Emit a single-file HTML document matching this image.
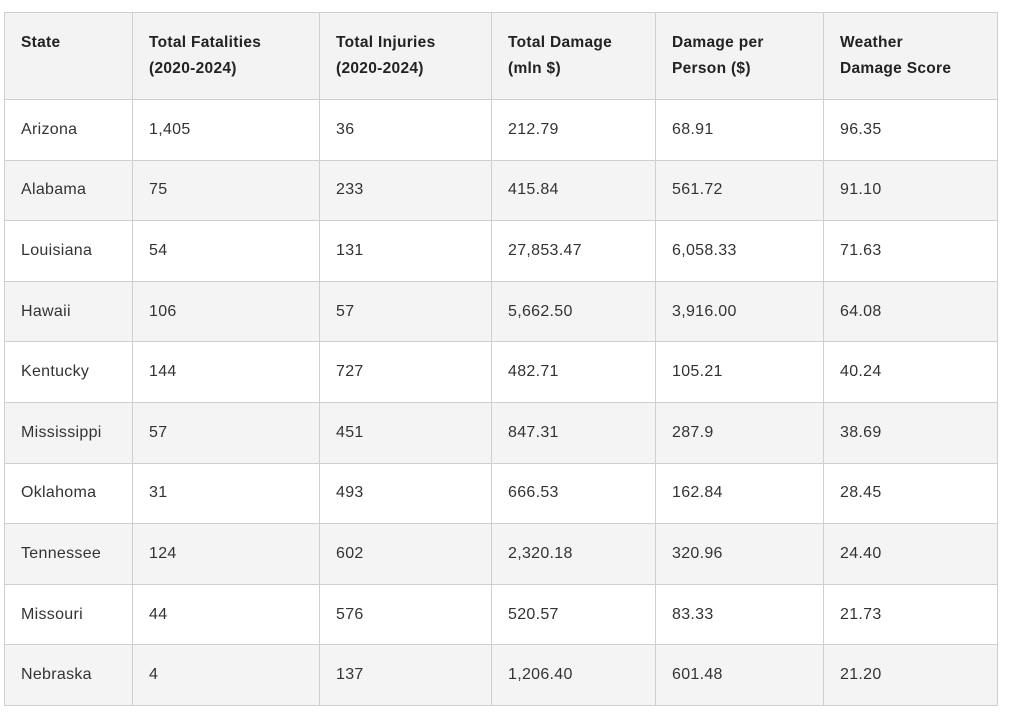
<!DOCTYPE html>
<html><head><meta charset="utf-8"><style>
body{margin:0;background:#fff;width:1024px;height:720px;overflow:hidden;font-family:"Liberation Sans",sans-serif;}
table{position:absolute;left:4px;top:12px;border-collapse:collapse;table-layout:fixed;width:993px;}
td,th{border:1px solid #cfcfcf;padding:0 0 0 16px;text-align:left;vertical-align:middle;color:#333;font-size:16px;letter-spacing:0.3px;}
th{height:87px;background:#f3f3f3;font-weight:bold;font-size:15.5px;color:#222;line-height:26px;vertical-align:top;padding-top:17px;box-sizing:border-box;}
td{height:60.6px;box-sizing:border-box;}
tbody tr:nth-child(odd) td{background:#fff;}
tbody tr:nth-child(even) td{background:#f4f4f4;}
</style></head><body>
<table>
<colgroup><col style="width:128px"><col style="width:187px"><col style="width:172px"><col style="width:164px"><col style="width:168px"><col style="width:174px"></colgroup>
<thead><tr>
<th>State</th>
<th>Total Fatalities<br>(2020-2024)</th>
<th>Total Injuries<br>(2020-2024)</th>
<th>Total Damage<br>(mln $)</th>
<th>Damage per<br>Person ($)</th>
<th>Weather<br>Damage Score</th>
</tr></thead>
<tbody>
<tr><td>Arizona</td><td>1,405</td><td>36</td><td>212.79</td><td>68.91</td><td>96.35</td></tr>
<tr><td>Alabama</td><td>75</td><td>233</td><td>415.84</td><td>561.72</td><td>91.10</td></tr>
<tr><td>Louisiana</td><td>54</td><td>131</td><td>27,853.47</td><td>6,058.33</td><td>71.63</td></tr>
<tr><td>Hawaii</td><td>106</td><td>57</td><td>5,662.50</td><td>3,916.00</td><td>64.08</td></tr>
<tr><td>Kentucky</td><td>144</td><td>727</td><td>482.71</td><td>105.21</td><td>40.24</td></tr>
<tr><td>Mississippi</td><td>57</td><td>451</td><td>847.31</td><td>287.9</td><td>38.69</td></tr>
<tr><td>Oklahoma</td><td>31</td><td>493</td><td>666.53</td><td>162.84</td><td>28.45</td></tr>
<tr><td>Tennessee</td><td>124</td><td>602</td><td>2,320.18</td><td>320.96</td><td>24.40</td></tr>
<tr><td>Missouri</td><td>44</td><td>576</td><td>520.57</td><td>83.33</td><td>21.73</td></tr>
<tr><td>Nebraska</td><td>4</td><td>137</td><td>1,206.40</td><td>601.48</td><td>21.20</td></tr>
</tbody></table>
</body></html>
